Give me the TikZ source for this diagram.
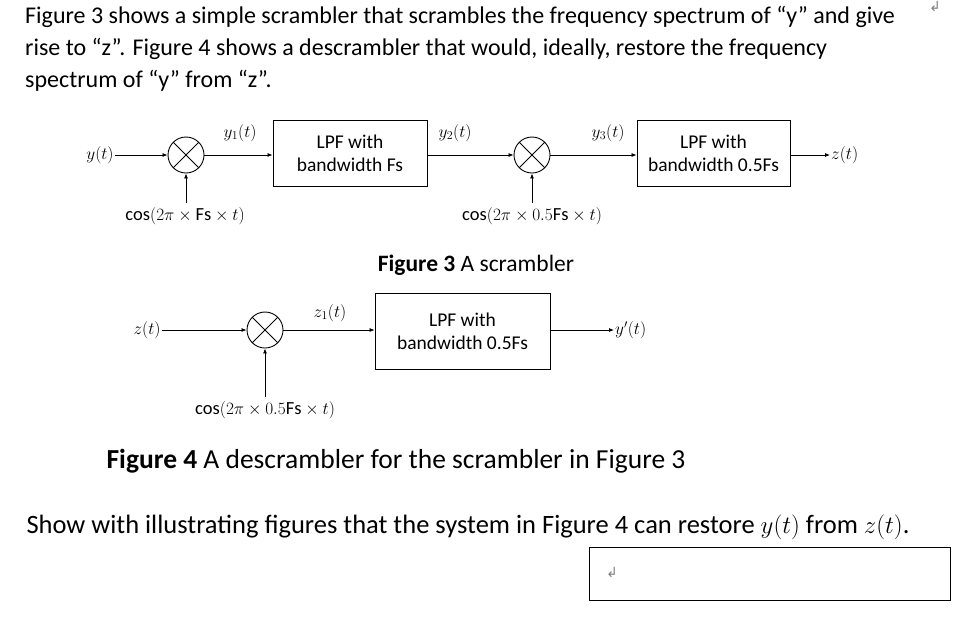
\documentclass[tikz,border=0pt]{standalone}
\usepackage{fontspec}
\setmainfont{Carlito}
\newfontfamily\djv{DejaVu Sans}
\usetikzlibrary{arrows.meta}
\begin{document}
\begin{tikzpicture}[x=1pt,y=-1pt,
  mix/.style={circle,draw,line width=0.9pt,minimum size=36pt,inner sep=0pt,path picture={\draw[line width=0.9pt] (path picture bounding box.north west)--(path picture bounding box.south east) (path picture bounding box.north east)--(path picture bounding box.south west);}},
  blk/.style={draw,line width=0.9pt,align=center,font=\fontsize{19.5}{23}\selectfont,inner sep=0pt},
  lab/.style={font=\fontsize{18.5}{20}\selectfont,inner sep=1pt},
  ar/.style={-{Latex[length=5pt,width=4pt]},line width=0.8pt},
  body/.style={font=\fontsize{24}{32}\selectfont,inner sep=0pt},
  ret/.style={text=gray,font=\djv\fontsize{14}{14}\selectfont,inner sep=0pt}]
\useasboundingbox (0,0) rectangle (979,627);
\node[body,anchor=north west,align=left] (para) at (25,6)
 {Figure 3 shows a simple scrambler that scrambles the frequency spectrum of “y” and give\\ rise to “z”. Figure 4 shows a descrambler that would, ideally, restore the frequency\\ spectrum of “y” from “z”.};
\node[ret] (r1) at (935,6) {\char"21B2};
% Figure 3
\node[lab] (y) at (100,155) {$y(t)$};
\node[mix] (m1) at (186,155) {};
\node[blk,minimum width=154pt,minimum height=66pt] (b1) at (350,153) {LPF with\\bandwidth Fs};
\node[mix] (m2) at (532,155) {};
\node[blk,minimum width=153pt,minimum height=66pt] (b2) at (713.5,153) {LPF with\\bandwidth 0.5Fs};
\node[lab,anchor=west] (z) at (830,155) {$z(t)$};
\node[lab] (y1) at (240,133) {$y_1(t)$};
\node[lab] (y2) at (455,133) {$y_2(t)$};
\node[lab] (y3) at (608,133) {$y_3(t)$};
\node[lab] (c1) at (185,216) {$\cos(2\pi\times\mathrm{Fs}\times t)$};
\node[lab] (c2) at (532,216) {$\cos(2\pi\times0.5\mathrm{Fs}\times t)$};
\draw[ar] (y) -- (m1);
\draw[ar] (m1) -- (m1 -| b1.west);
\draw[ar] (b1.east |- m2) -- (m2);
\draw[ar] (m2) -- (m2 -| b2.west);
\draw[ar] (b2.east |- z) -- (z);
\draw[ar] (c1.north -| m1) ++(0,-3) -- (m1);
\draw[ar] (c2.north -| m2) ++(0,-3) -- (m2);
\node[font=\fontsize{23.5}{26}\selectfont] (f3) at (476,265) {\textbf{Figure 3} A scrambler};
% Figure 4
\node[lab] (zz) at (147,330) {$z(t)$};
\node[mix] (m3) at (265,330) {};
\node[blk,minimum width=175pt,minimum height=76pt] (b3) at (462.5,331) {LPF with\\bandwidth 0.5Fs};
\node[lab,anchor=west] (yp) at (614,330) {$y'(t)$};
\node[lab] (z1) at (330,313) {$z_1(t)$};
\node[lab] (c3) at (265,410) {$\cos(2\pi\times0.5\mathrm{Fs}\times t)$};
\draw[ar] (zz) -- (m3);
\draw[ar] (m3) -- (m3 -| b3.west);
\draw[ar] (b3.east |- yp) -- (yp);
\draw[ar] (c3.north -| m3) ++(0,-3) -- (m3);
\node[body,font=\fontsize{27.5}{30}\selectfont] (f4) at (396,461) {\textbf{Figure 4} A descrambler for the scrambler in Figure 3};
\node[body,font=\fontsize{26.5}{30}\selectfont] (q) at (468,527) {Show with illustrating figures that the system in Figure 4 can restore $y(t)$ from $z(t)$.};
\node[draw,line width=1pt,minimum width=361pt,minimum height=53pt,inner sep=0pt] (ans) at (769.5,573.5) {};
\node[ret] (r2) at (612,572) {\char"21B2};
\end{tikzpicture}
\end{document}
